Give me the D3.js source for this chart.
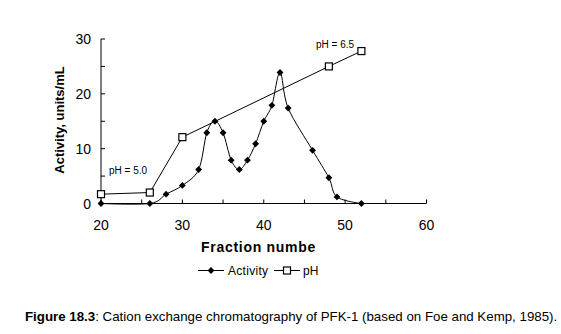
<!DOCTYPE html>
<html><head><meta charset="utf-8">
<script src="https://cdn.jsdelivr.net/npm/d3@7"></script>
<style>
body{margin:0;background:#fff;}
svg text{font-family:"Liberation Sans",Arial,sans-serif;}
</style></head>
<body>
<svg id="c" width="561" height="334"></svg>
<script>
const activityX = [20,26,28,30,32,33,34,35,36,37,38,39,40,41,42,43,46,48,49,52];
const activityY = [0,0,1.7,3.3,6.2,12.9,15,12.9,7.9,6.2,7.9,10.9,15,17.9,23.9,17.4,9.7,4.7,1.2,0];
const phX = [20,26,30,48,52];
const phY = [1.7,2.0,12.1,25.0,27.8];
const xTicks = [20,30,40,50,60];
const yTicks = [0,10,20,30];
const seriesNames = ["Activity","pH"];

const svg = d3.select("#c");
const x = d3.scaleLinear().domain([20,60]).range([101,426.5]);
const y = d3.scaleLinear().domain([0,30]).range([203.5,39]);

// axes
const g = svg.append("g");
g.append("line").attr("x1",x(20)).attr("x2",x(60)).attr("y1",y(0)).attr("y2",y(0)).attr("stroke","#000");
g.append("line").attr("x1",x(20)).attr("x2",x(20)).attr("y1",y(0)).attr("y2",y(30)).attr("stroke","#000");
d3.range(20,61,5).forEach(v=>{
  g.append("line").attr("x1",x(v)).attr("x2",x(v)).attr("y1",y(0)).attr("y2",y(0)-4).attr("stroke","#000");
});
d3.range(0,31,5).forEach(v=>{
  g.append("line").attr("x1",x(20)).attr("x2",x(20)+4).attr("y1",y(v)).attr("y2",y(v)).attr("stroke","#000");
});
xTicks.forEach(v=>{
  g.append("text").attr("x",x(v)).attr("y",y(0)+26).attr("text-anchor","middle")
   .attr("font-size",14).text(v);
});
yTicks.forEach(v=>{
  g.append("text").attr("x",x(20)-10).attr("y",y(v)+5).attr("text-anchor","end")
   .attr("font-size",14).text(v);
});

svg.append("text").attr("transform","translate(63.5,120) rotate(-90)").attr("text-anchor","middle")
  .attr("font-size",13).attr("font-weight","bold").text("Activity, units/mL");
svg.append("text").attr("x",258.5).attr("y",251.5).attr("text-anchor","middle")
  .attr("font-size",14).attr("font-weight","bold").attr("letter-spacing","0.7").text("Fraction numbe");

// pH line
const ph = phX.map((d,i)=>({x:d,y:phY[i]}));
svg.append("path").datum(ph).attr("fill","none").attr("stroke","#000").attr("stroke-width",1)
  .attr("d",d3.line().x(d=>x(d.x)).y(d=>y(d.y)));
// activity line
const act = activityX.map((d,i)=>({x:d,y:activityY[i]}));
svg.append("path").datum(act).attr("fill","none").attr("stroke","#000").attr("stroke-width",1)
  .attr("d",d3.line().curve(d3.curveCardinal.tension(0)).x(d=>x(d.x)).y(d=>y(d.y)));

const diamond = d3.symbol().type(d3.symbolDiamond2).size(30);
svg.selectAll(".dia").data(act).join("path").attr("class","dia")
  .attr("transform",d=>`translate(${x(d.x)},${y(d.y)})`).attr("d",diamond).attr("fill","#000");
svg.selectAll(".sq").data(ph).join("rect").attr("class","sq")
  .attr("x",d=>x(d.x)-3.5).attr("y",d=>y(d.y)-3.5).attr("width",7).attr("height",7)
  .attr("fill","#fff").attr("stroke","#000").attr("stroke-width",1.2);

svg.append("text").attr("x",109).attr("y",174).attr("font-size",10).text("pH = 5.0");
svg.append("text").attr("x",316).attr("y",48).attr("font-size",10).text("pH = 6.5");

// legend
const ly = 270.5;
svg.append("line").attr("x1",198).attr("x2",224).attr("y1",ly).attr("y2",ly).attr("stroke","#000");
svg.append("path").attr("transform",`translate(211,${ly})`).attr("d",diamond).attr("fill","#000");
svg.append("text").attr("x",228).attr("y",ly+4.5).attr("font-size",12).attr("letter-spacing","0.3").text(seriesNames[0]);
svg.append("line").attr("x1",274).attr("x2",300).attr("y1",ly).attr("y2",ly).attr("stroke","#000");
svg.append("rect").attr("x",283.5).attr("y",ly-3.5).attr("width",7).attr("height",7).attr("fill","#fff").attr("stroke","#000").attr("stroke-width",1.2);
svg.append("text").attr("x",303).attr("y",ly+4.5).attr("font-size",12).text(seriesNames[1]);

// caption
const cap = svg.append("text").attr("x",25).attr("y",320.5).attr("font-size",13.3);
cap.append("tspan").attr("font-weight","bold").text("Figure 18.3");
cap.append("tspan").text(": Cation exchange chromatography of PFK-1 (based on Foe and Kemp, 1985).");
</script>
</body></html>
